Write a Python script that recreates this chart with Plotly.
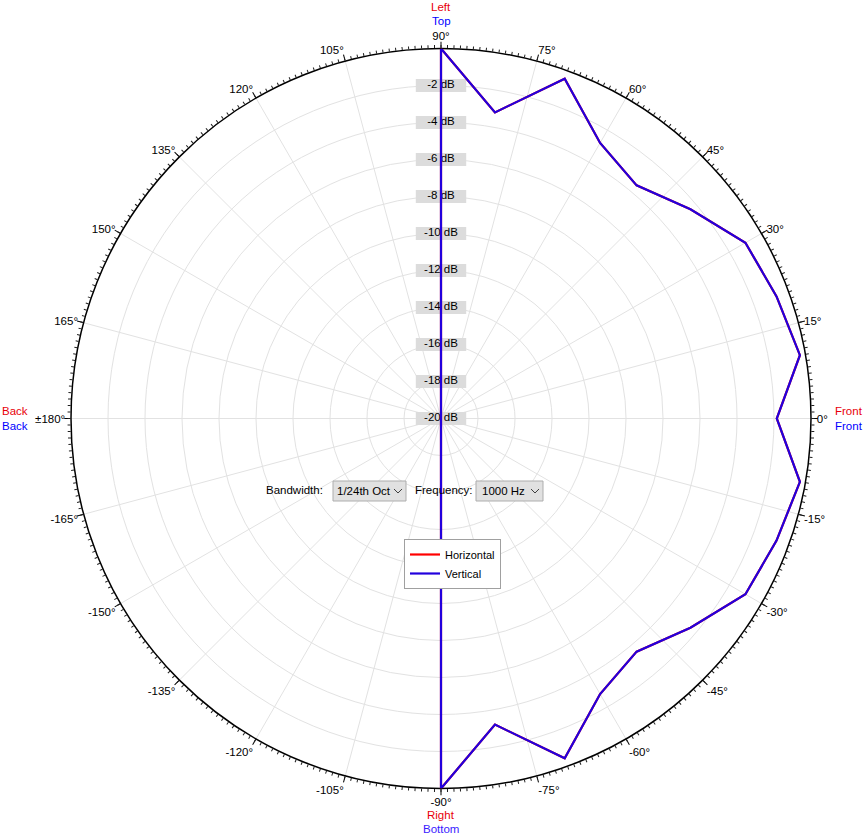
import plotly.graph_objects as go

W, H = 867, 836

# ---- data ----
angles_deg = [90, 80, 70, 60, 50, 40, 30, 20, 10, 0, -10, -20, -30, -40, -50, -60, -70, -80, -90]
vertical_db = [0, -3.2, -0.45, -2.8, -3.55, -2.4, -1.0, -0.7, -0.3, -1.85,
               -0.3, -0.7, -1.0, -2.4, -3.55, -2.8, -0.45, -3.2, 0]
horizontal_db = [0, -3.2, -0.45, -2.8, -3.55, -2.4, -1.0, -0.7, -0.3, -1.85,
                 -0.3, -0.7, -1.0, -2.4, -3.55, -2.8, -0.45, -3.2, 0]
series_names = ["Horizontal", "Vertical"]
series_colors = ["#ff0000", "#2200dd"]

ring_db = [-2, -4, -6, -8, -10, -12, -14, -16, -18, -20]
ring_labels = ["%d dB" % v for v in ring_db]

major_angles = list(range(0, 360, 15))
major_labels = ["0°", "15°", "30°", "45°", "60°", "75°", "90°", "105°", "120°", "135°", "150°", "165°",
                "±180°", "-165°", "-150°", "-135°", "-120°", "-105°", "-90°", "-75°", "-60°", "-45°", "-30°", "-15°"]
minor_angles = list(range(0, 360, 1))

FONT = "Liberation Sans, Arial, sans-serif"


def px(x):
    return x / W


def py(y):
    return 1 - y / H


cx, cy, R = 441, 418.5, 370
dom_x = [px(cx - R), px(cx + R)]
dom_y = [py(cy + R), py(cy - R)]

fig = go.Figure()

# ring labels (under the data)
fig.add_trace(go.Scatterpolar(
    r=ring_db, theta=[90] * len(ring_db), subplot="polar",
    mode="markers+text", text=ring_labels, textposition="middle center",
    textfont=dict(family=FONT, size=11.5, color="black"),
    marker=dict(symbol="line-ew", size=36, color="#dcdcdc",
                line=dict(width=13, color="#dcdcdc")),
    showlegend=False, hoverinfo="skip", cliponaxis=False,
))

all_series = [horizontal_db, vertical_db]
for name, color, vals in zip(series_names, series_colors, all_series):
    fig.add_trace(go.Scatterpolar(
        r=vals + vals[:1], theta=angles_deg + angles_deg[:1], subplot="polar2",
        mode="lines", name=name, line=dict(color=color, width=2.2),
        cliponaxis=False,
    ))

minor_text = []
for a in minor_angles:
    if a in major_angles:
        minor_text.append(major_labels[major_angles.index(a)])
    else:
        minor_text.append("")

fig.update_layout(
    width=W, height=H, autosize=False,
    margin=dict(l=0, r=0, t=0, b=0),
    paper_bgcolor="white",
    font=dict(family=FONT, size=11.5, color="black"),
    polar=dict(
        domain=dict(x=dom_x, y=dom_y),
        bgcolor="white",
        angularaxis=dict(
            rotation=0, direction="counterclockwise",
            tickmode="array", tickvals=major_angles, ticktext=[""] * len(major_angles),
            showticklabels=False, ticks="outside", ticklen=6, tickwidth=1, tickcolor="black",
            showgrid=True, gridcolor="#e2e2e2", gridwidth=1,
            showline=True, linecolor="black", linewidth=1.5,
        ),
        radialaxis=dict(
            range=[-20, 0], tickmode="array", tickvals=ring_db,
            showticklabels=False, ticks="", showline=False,
            showgrid=True, gridcolor="#e2e2e2", gridwidth=1,
        ),
    ),
    polar2=dict(
        domain=dict(x=dom_x, y=dom_y),
        bgcolor="rgba(0,0,0,0)",
        angularaxis=dict(
            rotation=0, direction="counterclockwise",
            tickmode="array", tickvals=minor_angles, ticktext=minor_text,
            ticks="outside", ticklen=3, tickwidth=0.8, tickcolor="#202020",
            tickfont=dict(family=FONT, size=11.5, color="black"),
            showgrid=False, showline=False,
        ),
        radialaxis=dict(range=[-20, 0], visible=False),
    ),
    legend=dict(
        x=px(404), y=py(539), xanchor="left", yanchor="top",
        bgcolor="white", bordercolor="#a0a0a0", borderwidth=1,
        font=dict(family=FONT, size=11, color="black"),
        tracegroupgap=0, itemwidth=30,
    ),
)

# direction labels
ann = []
def label(text, x, y, color, xanchor="center"):
    ann.append(dict(text=text, x=px(x), y=py(y), xref="paper", yref="paper",
                    xanchor=xanchor, yanchor="middle", showarrow=False,
                    font=dict(family=FONT, size=11.5, color=color)))

label("Left", 441, 7, "#e8000a")
label("Top", 441, 21, "#0000ff")
label("Right", 441, 815, "#e8000a")
label("Bottom", 441, 829, "#3a1cff")
label("Front", 833, 411, "#e8000a", "left")
label("Front", 833, 426, "#0000ff", "left")
label("Back", 30, 411, "#e8000a", "right")
label("Back", 30, 426, "#0000ff", "right")

# bandwidth / frequency controls
label("Bandwidth:", 264, 490, "black", "left")
label("Frequency:", 413, 490, "black", "left")
label("1/24th Oct", 335, 491, "black", "left")
label("1000 Hz", 480, 491, "black", "left")

shapes = []
for (x0, x1) in [(333, 406), (476, 543)]:
    shapes.append(dict(type="rect", xref="paper", yref="paper",
                       x0=px(x0), x1=px(x1), y0=py(501), y1=py(481),
                       fillcolor="#e1e1e1", line=dict(color="#adadad", width=1), layer="above"))
    chx = x1 - 8
    shapes.append(dict(type="path", xref="paper", yref="paper",
                       path="M %f %f L %f %f L %f %f" % (px(chx - 4), py(489), px(chx), py(493), px(chx + 4), py(489)),
                       line=dict(color="#404040", width=1), layer="above"))

fig.update_layout(annotations=ann, shapes=shapes)

fig.write_html("out.html", config={"displayModeBar": False},
               post_script="document.body.style.margin='0px';document.body.style.overflow='hidden';")
